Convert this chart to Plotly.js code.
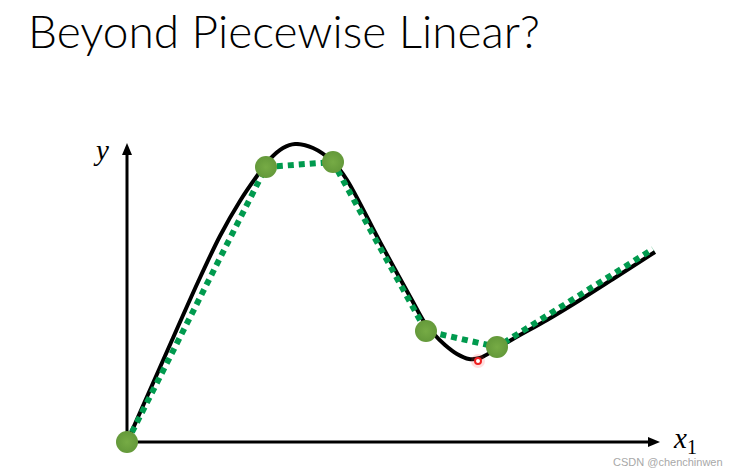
<!DOCTYPE html>
<html>
<head>
<meta charset="utf-8">
<script src="https://cdn.plot.ly/plotly-3.0.1.min.js"></script>
<style>html,body{margin:0;padding:0;background:#fff;}#chart{width:744px;height:474px;}</style>
</head>
<body>
<div id="chart"></div>
<script>
// True (smooth) function
const curveX = [0, 38, 71, 93, 113, 130, 143, 156, 168, 186, 206, 220, 253, 286, 296, 306, 318, 330, 342, 353, 366, 386, 420, 453, 486, 528];
const curveY = [0, 86, 160, 206, 241, 266, 283, 294, 298, 294, 280, 262, 200, 140, 122, 109, 97, 88, 83, 84, 91, 103, 122, 142, 163, 190];
// Piecewise linear approximation (knots)
const knotX = [0, 139, 206, 299, 370];
const knotY = [0, 275, 280, 111, 95];
const lineEndX = 526;
const lineEndY = 193;
// cursor mark
const cursorX = [351];
const cursorY = [81];
// axis extents (data units)
const xAxisEnd = 533;
const yAxisEnd = 299;

const titleText = 'Beyond Piecewise Linear?';
const yLabel = '<i>y</i>';
const xLabel = '<i>x</i>';
const xSub = '1';
const watermark = 'CSDN @chenchinwen';

const traces = [
  {
    x: curveX, y: curveY, mode: 'lines', type: 'scatter',
    line: {color: '#000000', width: 4, shape: 'spline', smoothing: 0.9},
    cliponaxis: false, hoverinfo: 'skip'
  },
  {
    x: knotX.concat([lineEndX]), y: knotY.concat([lineEndY]), mode: 'lines', type: 'scatter',
    line: {color: '#009a4e', width: 6, dash: '6px,5px'},
    cliponaxis: false, hoverinfo: 'skip'
  },
  {
    x: knotX, y: knotY, mode: 'markers', type: 'scatter',
    marker: {size: 22, color: '#64993a', gradient: {type: 'radial', color: '#76ab45'}, line: {width: 0}},
    cliponaxis: false, hoverinfo: 'skip'
  },
  {
    x: cursorX, y: cursorY, mode: 'markers', type: 'scatter',
    marker: {size: 14, color: 'rgba(255,80,80,0.18)', line: {width: 0}},
    cliponaxis: false, hoverinfo: 'skip'
  },
  {
    x: cursorX, y: cursorY, mode: 'markers', type: 'scatter',
    marker: {size: 6, color: '#ffffff', line: {width: 2, color: '#ee2020'}},
    cliponaxis: false, hoverinfo: 'skip'
  }
];

const ah = 12, aw = 5; // arrowhead length / half-width (data units == px)
const shapes = [
  {type: 'line', xref: 'x', yref: 'y', x0: 0, y0: 0, x1: xAxisEnd - ah + 1, y1: 0, line: {color: '#000', width: 3}, layer: 'below'},
  {type: 'line', xref: 'x', yref: 'y', x0: 0, y0: 0, x1: 0, y1: yAxisEnd - ah + 1, line: {color: '#000', width: 3}, layer: 'below'},
  {type: 'path', xref: 'x', yref: 'y', fillcolor: '#000', line: {width: 0},
   path: `M ${xAxisEnd} 0 L ${xAxisEnd - ah} ${aw} L ${xAxisEnd - ah} ${-aw} Z`},
  {type: 'path', xref: 'x', yref: 'y', fillcolor: '#000', line: {width: 0},
   path: `M 0 ${yAxisEnd} L ${-aw} ${yAxisEnd - ah} L ${aw} ${yAxisEnd - ah} Z`}
];

// plot area: px = 117 + (x + 10) ; py = 452 - (y + 10)   (1 data unit == 1 px)
const PX = px => (px - 117) / 550;
const PY = py => (452 - py) / 310;
const layout = {
  width: 744, height: 474,
  margin: {l: 117, r: 77, t: 142, b: 22, pad: 0},
  paper_bgcolor: '#ffffff', plot_bgcolor: '#ffffff',
  showlegend: false,
  title: {
    text: titleText,
    font: {family: 'Lato, "Open Sans", sans-serif', size: 46, weight: 300, color: '#000000'},
    xref: 'container', yref: 'container', x: 28 / 744, xanchor: 'left', y: 1 - 32 / 474, yanchor: 'middle'
  },
  xaxis: {range: [-10, 540], visible: false, fixedrange: true},
  yaxis: {range: [-10, 300], visible: false, fixedrange: true},
  shapes: shapes,
  annotations: [
    {x: PX(101), y: PY(150), xref: 'paper', yref: 'paper', xanchor: 'center', yanchor: 'middle',
     text: yLabel, showarrow: false,
     font: {family: '"Liberation Serif", "DejaVu Serif", serif', size: 29, color: '#000000'}},
    {x: PX(680), y: PY(438), xref: 'paper', yref: 'paper', xanchor: 'center', yanchor: 'middle',
     text: xLabel, showarrow: false,
     font: {family: '"Liberation Serif", "DejaVu Serif", serif', size: 29, color: '#000000'}},
    {x: PX(692), y: PY(447), xref: 'paper', yref: 'paper', xanchor: 'center', yanchor: 'middle',
     text: xSub, showarrow: false,
     font: {family: '"Liberation Serif", "DejaVu Serif", serif', size: 20, color: '#000000'}},
    {x: PX(725), y: PY(462), xref: 'paper', yref: 'paper', xanchor: 'right', yanchor: 'middle',
     text: watermark, showarrow: false,
     font: {family: '"Liberation Sans", Arial, sans-serif', size: 11, color: '#a8a8a8'}}
  ]
};

Plotly.newPlot('chart', traces, layout, {displayModeBar: false, staticPlot: true});
</script>
</body>
</html>
